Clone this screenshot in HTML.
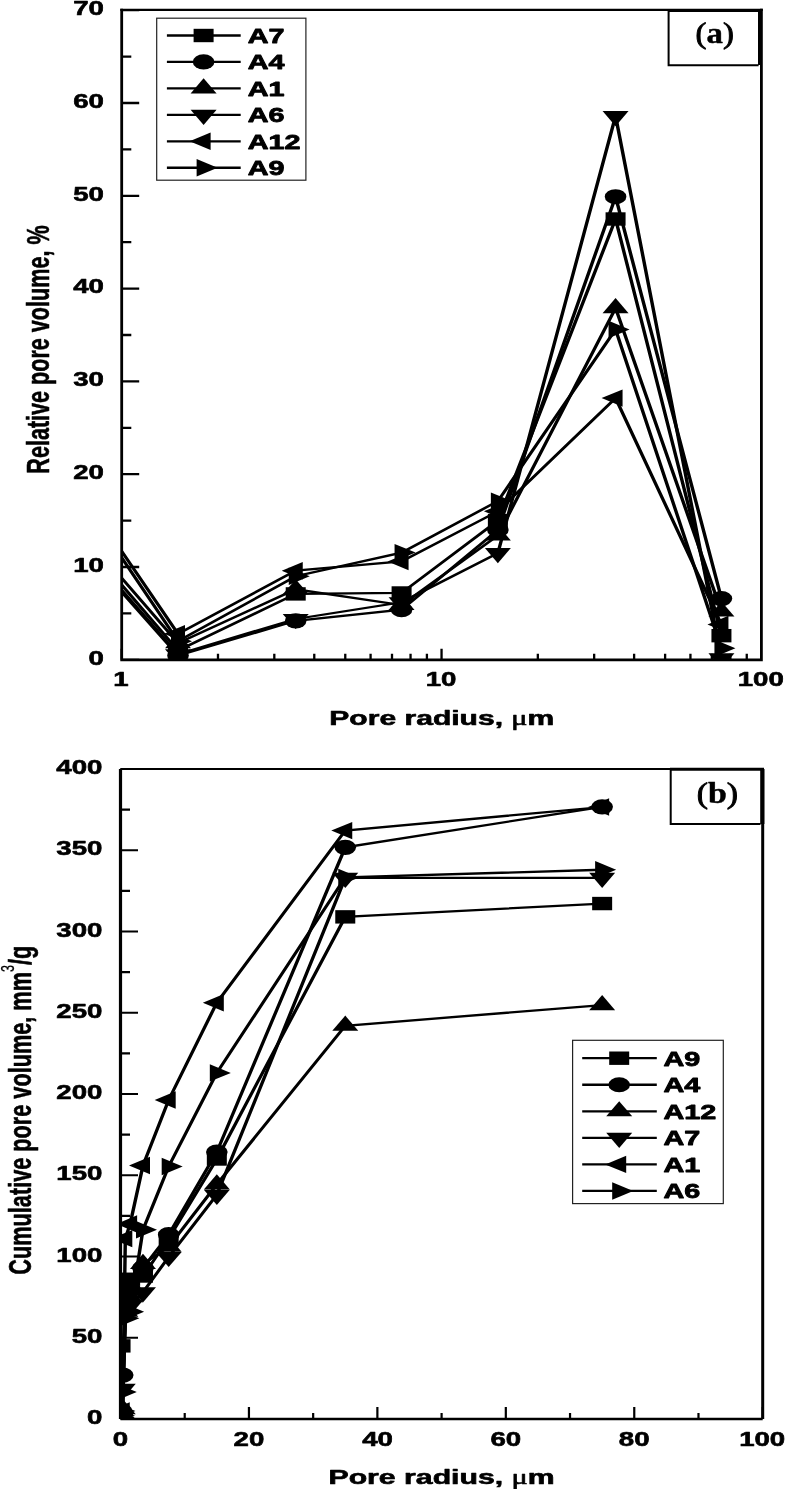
<!DOCTYPE html><html><head><meta charset="utf-8"><title>Pore volume charts</title><style>html,body{margin:0;padding:0;background:#fff;width:785px;height:1489px;overflow:hidden}svg{display:block}</style></head><body><svg width="785" height="1489" viewBox="0 0 785 1489">
<rect width="785" height="1489" fill="#fff"/>
<defs><clipPath id="ct"><rect x="121.7" y="9.8" width="639.6999999999999" height="650.0"/></clipPath><clipPath id="cb"><rect x="120.5" y="769.0" width="642.2" height="650.0"/></clipPath></defs>
<g clip-path="url(#ct)"><g transform="scale(1.5,1)">
<polyline points="54.49,492.76 118.68,633.82 197.15,570.71 267.73,561.43 331.92,511.32 410.38,398.10 480.96,624.54" fill="none" stroke="#000" stroke-width="2.3" stroke-linejoin="miter" stroke-miterlimit="3"/>
<polyline points="54.49,498.33 118.68,641.24 197.15,576.28 267.73,552.62 331.92,501.11 410.38,329.43 480.96,648.20" fill="none" stroke="#000" stroke-width="2.3" stroke-linejoin="miter" stroke-miterlimit="3"/>
<polyline points="54.49,532.01 118.68,643.10 197.15,589.27 267.73,605.05 331.92,535.45 410.38,308.09 480.96,611.54" fill="none" stroke="#000" stroke-width="2.3" stroke-linejoin="miter" stroke-miterlimit="3"/>
<polyline points="54.49,538.51 118.68,650.52 197.15,593.91 267.73,592.98 331.92,520.60 410.38,219.00 480.96,635.67" fill="none" stroke="#000" stroke-width="2.3" stroke-linejoin="miter" stroke-miterlimit="3"/>
<polyline points="54.49,544.45 118.68,654.23 197.15,618.97 267.73,602.26 331.92,553.08 410.38,115.99 480.96,658.41" fill="none" stroke="#000" stroke-width="2.3" stroke-linejoin="miter" stroke-miterlimit="3"/>
<polyline points="54.49,546.96 118.68,655.62 197.15,620.82 267.73,609.69 331.92,529.88 410.38,196.73 480.96,598.55" fill="none" stroke="#000" stroke-width="2.3" stroke-linejoin="miter" stroke-miterlimit="3"/>
</g>
<polygon points="185.02,625.12 185.02,642.52 164.02,633.82"/>
<polygon points="302.72,562.01 302.72,579.41 281.72,570.71"/>
<polygon points="408.59,552.73 408.59,570.13 387.59,561.43"/>
<polygon points="504.87,502.62 504.87,520.02 483.87,511.32"/>
<polygon points="622.57,389.40 622.57,406.80 601.57,398.10"/>
<polygon points="728.44,615.84 728.44,633.24 707.44,624.54"/>
<polygon points="171.02,632.54 171.02,649.94 192.02,641.24"/>
<polygon points="288.72,567.58 288.72,584.98 309.72,576.28"/>
<polygon points="394.59,543.92 394.59,561.32 415.59,552.62"/>
<polygon points="490.87,492.41 490.87,509.81 511.87,501.11"/>
<polygon points="608.57,320.73 608.57,338.13 629.57,329.43"/>
<polygon points="714.44,639.50 714.44,656.90 735.44,648.20"/>
<polygon points="165.02,648.16 191.02,648.16 178.02,632.96"/>
<polygon points="282.72,594.34 308.72,594.34 295.72,579.14"/>
<polygon points="388.59,610.11 414.59,610.11 401.59,594.91"/>
<polygon points="484.87,540.51 510.87,540.51 497.87,525.31"/>
<polygon points="602.57,313.15 628.57,313.15 615.57,297.95"/>
<polygon points="708.44,616.61 734.44,616.61 721.44,601.41"/>
<rect x="168.02" y="643.82" width="20.00" height="13.40"/>
<rect x="285.72" y="587.21" width="20.00" height="13.40"/>
<rect x="391.59" y="586.28" width="20.00" height="13.40"/>
<rect x="487.87" y="513.90" width="20.00" height="13.40"/>
<rect x="605.57" y="212.30" width="20.00" height="13.40"/>
<rect x="711.44" y="628.97" width="20.00" height="13.40"/>
<polygon points="165.02,649.17 191.02,649.17 178.02,664.37"/>
<polygon points="282.72,613.90 308.72,613.90 295.72,629.10"/>
<polygon points="388.59,597.20 414.59,597.20 401.59,612.40"/>
<polygon points="484.87,548.01 510.87,548.01 497.87,563.21"/>
<polygon points="602.57,110.93 628.57,110.93 615.57,126.13"/>
<polygon points="708.44,653.34 734.44,653.34 721.44,668.54"/>
<ellipse cx="178.02" cy="655.62" rx="10.80" ry="7.60"/>
<ellipse cx="295.72" cy="620.82" rx="10.80" ry="7.60"/>
<ellipse cx="401.59" cy="609.69" rx="10.80" ry="7.60"/>
<ellipse cx="497.87" cy="529.88" rx="10.80" ry="7.60"/>
<ellipse cx="615.57" cy="196.73" rx="10.80" ry="7.60"/>
<ellipse cx="721.44" cy="598.55" rx="10.80" ry="7.60"/>
</g>
<path d="M120.3,659.8 H762.8 M121.7,661.1999999999999 V8.8 M761.4,661.1999999999999 V8.8" fill="none" stroke="#000" stroke-width="2.8"/>
<path d="M120.3,9.8 H762.8" fill="none" stroke="#000" stroke-width="2.2"/>
<path d="M121.7,659.80h17.5 M121.7,613.40h9.6 M121.7,567.00h17.5 M121.7,520.60h9.6 M121.7,474.20h17.5 M121.7,427.80h9.6 M121.7,381.40h17.5 M121.7,335.00h9.6 M121.7,288.60h17.5 M121.7,242.20h9.6 M121.7,195.80h17.5 M121.7,149.40h9.6 M121.7,103.00h17.5 M121.7,56.60h9.6 M121.7,10.20h17.5 M121.70,659.8v-11 M217.98,659.8v-6 M274.31,659.8v-6 M314.27,659.8v-6 M345.27,659.8v-6 M370.59,659.8v-6 M392.00,659.8v-6 M410.55,659.8v-6 M426.91,659.8v-6 M441.55,659.8v-11 M537.83,659.8v-6 M594.16,659.8v-6 M634.12,659.8v-6 M665.12,659.8v-6 M690.44,659.8v-6 M711.85,659.8v-6 M730.40,659.8v-6 M746.76,659.8v-6" stroke="#000" stroke-width="2.3" fill="none"/>
<rect x="156.7" y="18.2" width="149.2" height="162.0" fill="none" stroke="#222" stroke-width="1.2"/>
<line x1="166.9" x2="240.7" y1="35.50" y2="35.50" stroke="#000" stroke-width="2.3"/>
<rect x="193.60" y="28.80" width="20.00" height="13.40"/>
<line x1="166.9" x2="240.7" y1="61.95" y2="61.95" stroke="#000" stroke-width="2.3"/>
<ellipse cx="203.60" cy="61.95" rx="10.80" ry="7.60"/>
<line x1="166.9" x2="240.7" y1="88.40" y2="88.40" stroke="#000" stroke-width="2.3"/>
<polygon points="190.60,93.47 216.60,93.47 203.60,78.27"/>
<line x1="166.9" x2="240.7" y1="114.85" y2="114.85" stroke="#000" stroke-width="2.3"/>
<polygon points="190.60,109.78 216.60,109.78 203.60,124.98"/>
<line x1="166.9" x2="240.7" y1="141.30" y2="141.30" stroke="#000" stroke-width="2.3"/>
<polygon points="210.60,132.60 210.60,150.00 189.60,141.30"/>
<line x1="166.9" x2="240.7" y1="167.75" y2="167.75" stroke="#000" stroke-width="2.3"/>
<polygon points="196.60,159.05 196.60,176.45 217.60,167.75"/>
<path d="M668.6,10.5 V65.3 H758.6" fill="none" stroke="#000" stroke-width="2"/>
<path d="M760,10 V65" fill="none" stroke="#000" stroke-width="4"/>
<path d="M668,10.5 H762" fill="none" stroke="#000" stroke-width="3"/>
<g clip-path="url(#cb)"><g transform="scale(1.5,1)">
<polyline points="80.37,1418.67 80.40,1418.35 80.48,1417.70 80.65,1416.56 80.98,1414.12 81.83,1410.88 83.54,1238.62 86.76,1224.00 95.32,1165.50 112.44,1100.01 144.55,1002.67 230.18,830.59 401.43,807.02" fill="none" stroke="#000" stroke-width="2.3" stroke-linejoin="miter" stroke-miterlimit="3"/>
<polyline points="80.37,1418.67 80.40,1418.35 80.48,1417.38 80.65,1415.75 80.98,1410.88 81.83,1392.03 83.54,1318.25 86.76,1311.75 95.32,1229.69 112.44,1166.47 144.55,1072.88 230.18,877.39 401.43,869.75" fill="none" stroke="#000" stroke-width="2.3" stroke-linejoin="miter" stroke-miterlimit="3"/>
<polyline points="80.37,1418.67 80.40,1418.19 80.48,1417.38 80.65,1415.75 80.98,1410.88 81.83,1375.12 83.54,1308.50 86.76,1289.00 95.32,1267.88 112.44,1234.72 144.55,1152.01 230.18,847.32 401.43,806.86" fill="none" stroke="#000" stroke-width="2.3" stroke-linejoin="miter" stroke-miterlimit="3"/>
<polyline points="80.37,1345.88 80.40,1311.75 80.48,1302.00 80.65,1295.50 80.98,1289.00 81.83,1285.75 83.54,1284.12 86.76,1279.25 95.32,1276.00 112.44,1238.62 144.55,1159.00 230.18,916.88 401.43,903.55" fill="none" stroke="#000" stroke-width="2.3" stroke-linejoin="miter" stroke-miterlimit="3"/>
<polyline points="80.37,1418.67 80.40,1418.35 80.48,1417.70 80.65,1416.56 80.98,1414.12 81.83,1409.25 83.54,1311.75 86.76,1297.12 95.32,1263.97 112.44,1246.75 144.55,1184.35 230.18,1025.75 401.43,1005.11" fill="none" stroke="#000" stroke-width="2.3" stroke-linejoin="miter" stroke-miterlimit="3"/>
<polyline points="80.37,1418.84 80.40,1418.51 80.48,1418.03 80.65,1390.08 80.98,1389.42 81.83,1388.78 83.54,1315.00 86.76,1305.25 95.32,1292.25 112.44,1256.99 144.55,1194.75 230.18,877.88 401.43,877.88" fill="none" stroke="#000" stroke-width="2.3" stroke-linejoin="miter" stroke-miterlimit="3"/>
</g>
<polygon points="127.55,1409.97 127.55,1427.38 106.55,1418.67"/>
<polygon points="127.60,1409.65 127.60,1427.05 106.60,1418.35"/>
<polygon points="127.72,1409.00 127.72,1426.40 106.72,1417.70"/>
<polygon points="127.98,1407.86 127.98,1425.26 106.98,1416.56"/>
<polygon points="128.46,1405.42 128.46,1422.83 107.46,1414.12"/>
<polygon points="129.75,1402.17 129.75,1419.58 108.75,1410.88"/>
<polygon points="132.32,1229.92 132.32,1247.33 111.32,1238.62"/>
<polygon points="137.13,1215.30 137.13,1232.70 116.13,1224.00"/>
<polygon points="149.98,1156.80 149.98,1174.20 128.98,1165.50"/>
<polygon points="175.67,1091.31 175.67,1108.71 154.67,1100.01"/>
<polygon points="223.83,993.97 223.83,1011.38 202.83,1002.67"/>
<polygon points="352.27,821.89 352.27,839.29 331.27,830.59"/>
<polygon points="609.15,798.32 609.15,815.73 588.15,807.02"/>
<polygon points="113.55,1409.97 113.55,1427.38 134.55,1418.67"/>
<polygon points="113.60,1409.65 113.60,1427.05 134.60,1418.35"/>
<polygon points="113.72,1408.67 113.72,1426.08 134.72,1417.38"/>
<polygon points="113.98,1407.05 113.98,1424.45 134.98,1415.75"/>
<polygon points="114.46,1402.17 114.46,1419.58 135.46,1410.88"/>
<polygon points="115.75,1383.33 115.75,1400.73 136.75,1392.03"/>
<polygon points="118.32,1309.55 118.32,1326.95 139.32,1318.25"/>
<polygon points="123.13,1303.05 123.13,1320.45 144.13,1311.75"/>
<polygon points="135.98,1220.99 135.98,1238.39 156.98,1229.69"/>
<polygon points="161.67,1157.77 161.67,1175.17 182.67,1166.47"/>
<polygon points="209.83,1064.17 209.83,1081.58 230.83,1072.88"/>
<polygon points="338.27,868.69 338.27,886.09 359.27,877.39"/>
<polygon points="595.15,861.05 595.15,878.45 616.15,869.75"/>
<ellipse cx="120.55" cy="1418.67" rx="10.80" ry="7.60"/>
<ellipse cx="120.60" cy="1418.19" rx="10.80" ry="7.60"/>
<ellipse cx="120.72" cy="1417.38" rx="10.80" ry="7.60"/>
<ellipse cx="120.98" cy="1415.75" rx="10.80" ry="7.60"/>
<ellipse cx="121.46" cy="1410.88" rx="10.80" ry="7.60"/>
<ellipse cx="122.75" cy="1375.12" rx="10.80" ry="7.60"/>
<ellipse cx="125.32" cy="1308.50" rx="10.80" ry="7.60"/>
<ellipse cx="130.13" cy="1289.00" rx="10.80" ry="7.60"/>
<ellipse cx="142.98" cy="1267.88" rx="10.80" ry="7.60"/>
<ellipse cx="168.67" cy="1234.72" rx="10.80" ry="7.60"/>
<ellipse cx="216.83" cy="1152.01" rx="10.80" ry="7.60"/>
<ellipse cx="345.27" cy="847.32" rx="10.80" ry="7.60"/>
<ellipse cx="602.15" cy="806.86" rx="10.80" ry="7.60"/>
<rect x="110.55" y="1339.17" width="20.00" height="13.40"/>
<rect x="110.60" y="1305.05" width="20.00" height="13.40"/>
<rect x="110.72" y="1295.30" width="20.00" height="13.40"/>
<rect x="110.98" y="1288.80" width="20.00" height="13.40"/>
<rect x="111.46" y="1282.30" width="20.00" height="13.40"/>
<rect x="112.75" y="1279.05" width="20.00" height="13.40"/>
<rect x="115.32" y="1277.42" width="20.00" height="13.40"/>
<rect x="120.13" y="1272.55" width="20.00" height="13.40"/>
<rect x="132.98" y="1269.30" width="20.00" height="13.40"/>
<rect x="158.67" y="1231.92" width="20.00" height="13.40"/>
<rect x="206.83" y="1152.30" width="20.00" height="13.40"/>
<rect x="335.27" y="910.17" width="20.00" height="13.40"/>
<rect x="592.15" y="896.85" width="20.00" height="13.40"/>
<polygon points="107.55,1423.74 133.55,1423.74 120.55,1408.54"/>
<polygon points="107.60,1423.42 133.60,1423.42 120.60,1408.22"/>
<polygon points="107.72,1422.77 133.72,1422.77 120.72,1407.57"/>
<polygon points="107.98,1421.63 133.98,1421.63 120.98,1406.43"/>
<polygon points="108.46,1419.19 134.46,1419.19 121.46,1403.99"/>
<polygon points="109.75,1414.32 135.75,1414.32 122.75,1399.12"/>
<polygon points="112.32,1316.82 138.32,1316.82 125.32,1301.62"/>
<polygon points="117.13,1302.19 143.13,1302.19 130.13,1286.99"/>
<polygon points="129.98,1269.04 155.98,1269.04 142.98,1253.84"/>
<polygon points="155.67,1251.82 181.67,1251.82 168.67,1236.62"/>
<polygon points="203.83,1189.42 229.83,1189.42 216.83,1174.22"/>
<polygon points="332.27,1030.82 358.27,1030.82 345.27,1015.62"/>
<polygon points="589.15,1010.18 615.15,1010.18 602.15,994.98"/>
<polygon points="107.55,1413.77 133.55,1413.77 120.55,1428.97"/>
<polygon points="107.60,1413.45 133.60,1413.45 120.60,1428.65"/>
<polygon points="107.72,1412.96 133.72,1412.96 120.72,1428.16"/>
<polygon points="107.98,1385.01 133.98,1385.01 120.98,1400.21"/>
<polygon points="108.46,1384.36 134.46,1384.36 121.46,1399.56"/>
<polygon points="109.75,1383.71 135.75,1383.71 122.75,1398.91"/>
<polygon points="112.32,1309.93 138.32,1309.93 125.32,1325.13"/>
<polygon points="117.13,1300.18 143.13,1300.18 130.13,1315.38"/>
<polygon points="129.98,1287.18 155.98,1287.18 142.98,1302.38"/>
<polygon points="155.67,1251.92 181.67,1251.92 168.67,1267.12"/>
<polygon points="203.83,1189.68 229.83,1189.68 216.83,1204.88"/>
<polygon points="332.27,872.81 358.27,872.81 345.27,888.01"/>
<polygon points="589.15,872.81 615.15,872.81 602.15,888.01"/>
</g>
<path d="M120.5,1419.0 H762.7" fill="none" stroke="#000" stroke-width="2.4"/>
<path d="M120.5,769.0 H762.7" fill="none" stroke="#000" stroke-width="2.1"/>
<path d="M120.5,769.0 V1419.0" fill="none" stroke="#000" stroke-width="3.2"/>
<path d="M762.7,769.0 V1419.0" fill="none" stroke="#000" stroke-width="3.0"/>
<path d="M120.5,1419.00h17.5 M120.5,1378.38h9.5 M120.5,1337.75h17.5 M120.5,1297.12h9.5 M120.5,1256.50h17.5 M120.5,1215.88h9.5 M120.5,1175.25h17.5 M120.5,1134.62h9.5 M120.5,1094.00h17.5 M120.5,1053.38h9.5 M120.5,1012.75h17.5 M120.5,972.12h9.5 M120.5,931.50h17.5 M120.5,890.88h9.5 M120.5,850.25h17.5 M120.5,809.62h9.5 M120.5,769.00h17.5 M120.50,1419.0v-12 M184.72,1419.0v-6 M248.94,1419.0v-12 M313.16,1419.0v-6 M377.38,1419.0v-12 M441.60,1419.0v-6 M505.82,1419.0v-12 M570.04,1419.0v-6 M634.26,1419.0v-12 M698.48,1419.0v-6 M762.70,1419.0v-12" stroke="#000" stroke-width="2.2" fill="none"/>
<rect x="572.6" y="1040.3" width="150.69999999999993" height="163.29999999999995" fill="#fff" stroke="#222" stroke-width="1.2"/>
<line x1="582.2" x2="656.8" y1="1058.20" y2="1058.20" stroke="#000" stroke-width="2.3"/>
<rect x="609.20" y="1051.50" width="20.00" height="13.40"/>
<line x1="582.2" x2="656.8" y1="1084.75" y2="1084.75" stroke="#000" stroke-width="2.3"/>
<ellipse cx="619.20" cy="1084.75" rx="10.80" ry="7.60"/>
<line x1="582.2" x2="656.8" y1="1111.30" y2="1111.30" stroke="#000" stroke-width="2.3"/>
<polygon points="606.20,1116.37 632.20,1116.37 619.20,1101.17"/>
<line x1="582.2" x2="656.8" y1="1137.85" y2="1137.85" stroke="#000" stroke-width="2.3"/>
<polygon points="606.20,1132.78 632.20,1132.78 619.20,1147.98"/>
<line x1="582.2" x2="656.8" y1="1164.40" y2="1164.40" stroke="#000" stroke-width="2.3"/>
<polygon points="626.20,1155.70 626.20,1173.10 605.20,1164.40"/>
<line x1="582.2" x2="656.8" y1="1190.95" y2="1190.95" stroke="#000" stroke-width="2.3"/>
<polygon points="612.20,1182.25 612.20,1199.65 633.20,1190.95"/>
<path d="M670.7,770 V824 H760.5" fill="none" stroke="#000" stroke-width="2"/>
<path d="M762.3,769 V824" fill="none" stroke="#000" stroke-width="4.2"/>
<path d="M670,769.3 H764" fill="none" stroke="#000" stroke-width="3"/>
<g fill="#000">
<g transform="translate(88.45,664.66) scale(0.2764,0.1959)"><text x="0" y="0" font-family="'Liberation Sans', Arial, sans-serif" font-weight="bold" font-size="100" stroke="#000" stroke-width="3" stroke-linejoin="round" >0</text></g>
<g transform="translate(73.25,571.86) scale(0.2764,0.1959)"><text x="0" y="0" font-family="'Liberation Sans', Arial, sans-serif" font-weight="bold" font-size="100" stroke="#000" stroke-width="3" stroke-linejoin="round" >10</text></g>
<g transform="translate(73.25,479.06) scale(0.2764,0.1959)"><text x="0" y="0" font-family="'Liberation Sans', Arial, sans-serif" font-weight="bold" font-size="100" stroke="#000" stroke-width="3" stroke-linejoin="round" >20</text></g>
<g transform="translate(73.25,386.26) scale(0.2764,0.1959)"><text x="0" y="0" font-family="'Liberation Sans', Arial, sans-serif" font-weight="bold" font-size="100" stroke="#000" stroke-width="3" stroke-linejoin="round" >30</text></g>
<g transform="translate(73.25,293.46) scale(0.2764,0.1959)"><text x="0" y="0" font-family="'Liberation Sans', Arial, sans-serif" font-weight="bold" font-size="100" stroke="#000" stroke-width="3" stroke-linejoin="round" >40</text></g>
<g transform="translate(73.25,200.66) scale(0.2764,0.1959)"><text x="0" y="0" font-family="'Liberation Sans', Arial, sans-serif" font-weight="bold" font-size="100" stroke="#000" stroke-width="3" stroke-linejoin="round" >50</text></g>
<g transform="translate(73.25,107.86) scale(0.2764,0.1959)"><text x="0" y="0" font-family="'Liberation Sans', Arial, sans-serif" font-weight="bold" font-size="100" stroke="#000" stroke-width="3" stroke-linejoin="round" >60</text></g>
<g transform="translate(73.25,15.06) scale(0.2764,0.1959)"><text x="0" y="0" font-family="'Liberation Sans', Arial, sans-serif" font-weight="bold" font-size="100" stroke="#000" stroke-width="3" stroke-linejoin="round" >70</text></g>
<g transform="translate(113.25,686.16) scale(0.2764,0.1959)"><text x="0" y="0" font-family="'Liberation Sans', Arial, sans-serif" font-weight="bold" font-size="100" stroke="#000" stroke-width="3" stroke-linejoin="round" >1</text></g>
<g transform="translate(425.63,686.16) scale(0.2764,0.1959)"><text x="0" y="0" font-family="'Liberation Sans', Arial, sans-serif" font-weight="bold" font-size="100" stroke="#000" stroke-width="3" stroke-linejoin="round" >10</text></g>
<g transform="translate(737.74,686.16) scale(0.2764,0.1959)"><text x="0" y="0" font-family="'Liberation Sans', Arial, sans-serif" font-weight="bold" font-size="100" stroke="#000" stroke-width="3" stroke-linejoin="round" >100</text></g>
<g transform="translate(86.95,1424.16) scale(0.2764,0.1959)"><text x="0" y="0" font-family="'Liberation Sans', Arial, sans-serif" font-weight="bold" font-size="100" stroke="#000" stroke-width="3" stroke-linejoin="round" >0</text></g>
<g transform="translate(71.75,1342.91) scale(0.2764,0.1959)"><text x="0" y="0" font-family="'Liberation Sans', Arial, sans-serif" font-weight="bold" font-size="100" stroke="#000" stroke-width="3" stroke-linejoin="round" >50</text></g>
<g transform="translate(56.27,1261.66) scale(0.2764,0.1959)"><text x="0" y="0" font-family="'Liberation Sans', Arial, sans-serif" font-weight="bold" font-size="100" stroke="#000" stroke-width="3" stroke-linejoin="round" >100</text></g>
<g transform="translate(56.27,1180.41) scale(0.2764,0.1959)"><text x="0" y="0" font-family="'Liberation Sans', Arial, sans-serif" font-weight="bold" font-size="100" stroke="#000" stroke-width="3" stroke-linejoin="round" >150</text></g>
<g transform="translate(56.27,1099.16) scale(0.2764,0.1959)"><text x="0" y="0" font-family="'Liberation Sans', Arial, sans-serif" font-weight="bold" font-size="100" stroke="#000" stroke-width="3" stroke-linejoin="round" >200</text></g>
<g transform="translate(56.27,1017.91) scale(0.2764,0.1959)"><text x="0" y="0" font-family="'Liberation Sans', Arial, sans-serif" font-weight="bold" font-size="100" stroke="#000" stroke-width="3" stroke-linejoin="round" >250</text></g>
<g transform="translate(56.27,936.66) scale(0.2764,0.1959)"><text x="0" y="0" font-family="'Liberation Sans', Arial, sans-serif" font-weight="bold" font-size="100" stroke="#000" stroke-width="3" stroke-linejoin="round" >300</text></g>
<g transform="translate(56.27,855.41) scale(0.2764,0.1959)"><text x="0" y="0" font-family="'Liberation Sans', Arial, sans-serif" font-weight="bold" font-size="100" stroke="#000" stroke-width="3" stroke-linejoin="round" >350</text></g>
<g transform="translate(56.27,774.16) scale(0.2764,0.1959)"><text x="0" y="0" font-family="'Liberation Sans', Arial, sans-serif" font-weight="bold" font-size="100" stroke="#000" stroke-width="3" stroke-linejoin="round" >400</text></g>
<g transform="translate(112.70,1445.76) scale(0.2764,0.1959)"><text x="0" y="0" font-family="'Liberation Sans', Arial, sans-serif" font-weight="bold" font-size="100" stroke="#000" stroke-width="3" stroke-linejoin="round" >0</text></g>
<g transform="translate(233.54,1445.76) scale(0.2764,0.1959)"><text x="0" y="0" font-family="'Liberation Sans', Arial, sans-serif" font-weight="bold" font-size="100" stroke="#000" stroke-width="3" stroke-linejoin="round" >20</text></g>
<g transform="translate(362.25,1445.76) scale(0.2764,0.1959)"><text x="0" y="0" font-family="'Liberation Sans', Arial, sans-serif" font-weight="bold" font-size="100" stroke="#000" stroke-width="3" stroke-linejoin="round" >40</text></g>
<g transform="translate(490.42,1445.76) scale(0.2764,0.1959)"><text x="0" y="0" font-family="'Liberation Sans', Arial, sans-serif" font-weight="bold" font-size="100" stroke="#000" stroke-width="3" stroke-linejoin="round" >60</text></g>
<g transform="translate(618.86,1445.76) scale(0.2764,0.1959)"><text x="0" y="0" font-family="'Liberation Sans', Arial, sans-serif" font-weight="bold" font-size="100" stroke="#000" stroke-width="3" stroke-linejoin="round" >80</text></g>
<g transform="translate(739.14,1445.76) scale(0.2764,0.1959)"><text x="0" y="0" font-family="'Liberation Sans', Arial, sans-serif" font-weight="bold" font-size="100" stroke="#000" stroke-width="3" stroke-linejoin="round" >100</text></g>
<g transform="translate(247.81,42.97) scale(0.2875,0.2106)"><text x="0" y="0" font-family="'Liberation Sans', Arial, sans-serif" font-weight="bold" font-size="100" stroke="#000" stroke-width="4" stroke-linejoin="round" >A7</text></g>
<g transform="translate(247.81,69.32) scale(0.2875,0.2106)"><text x="0" y="0" font-family="'Liberation Sans', Arial, sans-serif" font-weight="bold" font-size="100" stroke="#000" stroke-width="4" stroke-linejoin="round" >A4</text></g>
<g transform="translate(247.81,95.77) scale(0.2875,0.2106)"><text x="0" y="0" font-family="'Liberation Sans', Arial, sans-serif" font-weight="bold" font-size="100" stroke="#000" stroke-width="4" stroke-linejoin="round" >A1</text></g>
<g transform="translate(247.81,122.22) scale(0.2875,0.2106)"><text x="0" y="0" font-family="'Liberation Sans', Arial, sans-serif" font-weight="bold" font-size="100" stroke="#000" stroke-width="4" stroke-linejoin="round" >A6</text></g>
<g transform="translate(247.81,148.77) scale(0.2875,0.2106)"><text x="0" y="0" font-family="'Liberation Sans', Arial, sans-serif" font-weight="bold" font-size="100" stroke="#000" stroke-width="4" stroke-linejoin="round" >A12</text></g>
<g transform="translate(247.81,175.12) scale(0.2875,0.2106)"><text x="0" y="0" font-family="'Liberation Sans', Arial, sans-serif" font-weight="bold" font-size="100" stroke="#000" stroke-width="4" stroke-linejoin="round" >A9</text></g>
<g transform="translate(663.61,1065.57) scale(0.2875,0.2106)"><text x="0" y="0" font-family="'Liberation Sans', Arial, sans-serif" font-weight="bold" font-size="100" stroke="#000" stroke-width="4" stroke-linejoin="round" >A9</text></g>
<g transform="translate(663.61,1092.12) scale(0.2875,0.2106)"><text x="0" y="0" font-family="'Liberation Sans', Arial, sans-serif" font-weight="bold" font-size="100" stroke="#000" stroke-width="4" stroke-linejoin="round" >A4</text></g>
<g transform="translate(663.61,1118.77) scale(0.2875,0.2106)"><text x="0" y="0" font-family="'Liberation Sans', Arial, sans-serif" font-weight="bold" font-size="100" stroke="#000" stroke-width="4" stroke-linejoin="round" >A12</text></g>
<g transform="translate(663.61,1145.32) scale(0.2875,0.2106)"><text x="0" y="0" font-family="'Liberation Sans', Arial, sans-serif" font-weight="bold" font-size="100" stroke="#000" stroke-width="4" stroke-linejoin="round" >A7</text></g>
<g transform="translate(663.61,1171.77) scale(0.2875,0.2106)"><text x="0" y="0" font-family="'Liberation Sans', Arial, sans-serif" font-weight="bold" font-size="100" stroke="#000" stroke-width="4" stroke-linejoin="round" >A1</text></g>
<g transform="translate(663.61,1198.32) scale(0.2875,0.2106)"><text x="0" y="0" font-family="'Liberation Sans', Arial, sans-serif" font-weight="bold" font-size="100" stroke="#000" stroke-width="4" stroke-linejoin="round" >A6</text></g>
<g transform="translate(329.30,724.94) scale(0.3007,0.2073)"><text x="0" y="0" font-family="'Liberation Sans', Arial, sans-serif" font-weight="bold" font-size="100" stroke="#000" stroke-width="3" stroke-linejoin="round" >Pore radius, <tspan font-family="Liberation Serif, serif" font-weight="normal" stroke-width="3">μ</tspan>m</text></g>
<g transform="translate(328.49,1483.88) scale(0.3024,0.2010)"><text x="0" y="0" font-family="'Liberation Sans', Arial, sans-serif" font-weight="bold" font-size="100" stroke="#000" stroke-width="3" stroke-linejoin="round" >Pore radius, <tspan font-family="Liberation Serif, serif" font-weight="normal" stroke-width="3">μ</tspan>m</text></g>
<g transform="translate(48.59,473.70) rotate(-90) scale(0.2160,0.3052)"><text x="0" y="0" font-family="'Liberation Sans', Arial, sans-serif" font-weight="bold" font-size="100" stroke="#000" stroke-width="1.8" stroke-linejoin="round" >Relative pore volume, %</text></g>
<g transform="translate(31.25,1274.65) rotate(-90) scale(0.2171,0.3158)"><text x="0" y="0" font-family="'Liberation Sans', Arial, sans-serif" font-weight="bold" font-size="100" stroke="#000" stroke-width="1.8" stroke-linejoin="round" >Cumulative pore volume, mm<tspan font-weight="normal" font-size="58.4" dy="-56" stroke-width="1">3</tspan><tspan dy="56">/g</tspan></text></g>
<g transform="translate(695.62,43.00) scale(0.3279,0.3043)"><text x="0" y="0" font-family="'Liberation Serif', 'Times New Roman', serif" font-weight="bold" font-size="100" stroke="#000" stroke-width="1.5" stroke-linejoin="round" ><tspan font-weight="normal" stroke-width="3">(</tspan>a<tspan font-weight="normal" stroke-width="3">)</tspan></text></g>
<g transform="translate(696.68,802.80) scale(0.3388,0.3043)"><text x="0" y="0" font-family="'Liberation Serif', 'Times New Roman', serif" font-weight="bold" font-size="100" stroke="#000" stroke-width="1.5" stroke-linejoin="round" ><tspan font-weight="normal" stroke-width="3">(</tspan>b<tspan font-weight="normal" stroke-width="3">)</tspan></text></g>
</g>
</svg></body></html>
